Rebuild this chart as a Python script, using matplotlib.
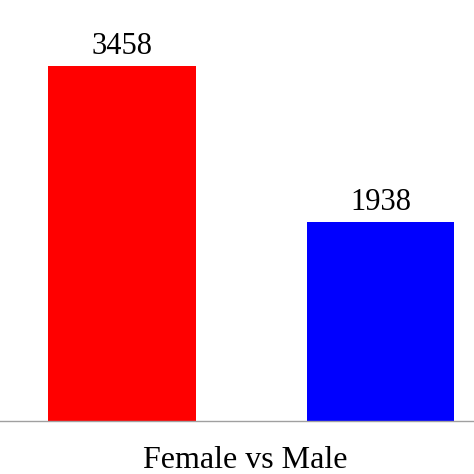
import matplotlib
matplotlib.use("Agg")
import matplotlib.pyplot as plt

categories = ["Female", "Male"]
values = [3458, 1938]
colors = ["#ff0000", "#0000ff"]
xlabel = "Female vs Male"

fig = plt.figure(figsize=(4.74, 4.74), dpi=100)
ax = fig.add_axes([0, 53/474, 1, 421/474])
x = list(range(len(categories)))
bars = ax.bar(x, values, width=0.5725, color=colors, zorder=2)
for xi, v in zip(x, values):
    ax.annotate(str(v), (xi, v), xytext=(0, 9), textcoords="offset points",
                ha="center", va="baseline",
                family="Liberation Serif", fontsize=22)
ax.set_xlim(-122/258.5, 352/258.5)
ax.set_ylim(0, 3458*421/355)
for s in ["top", "left", "right"]:
    ax.spines[s].set_visible(False)
ax.spines["bottom"].set_color("#a0a0a0")
ax.spines["bottom"].set_linewidth(1.0)
ax.set_xticks([])
ax.set_yticks([])
fig.text(245/474, 6/474, xlabel, ha="center", va="baseline",
         family="Liberation Serif", fontsize=23)
fig.savefig("out.png", dpi=100)
